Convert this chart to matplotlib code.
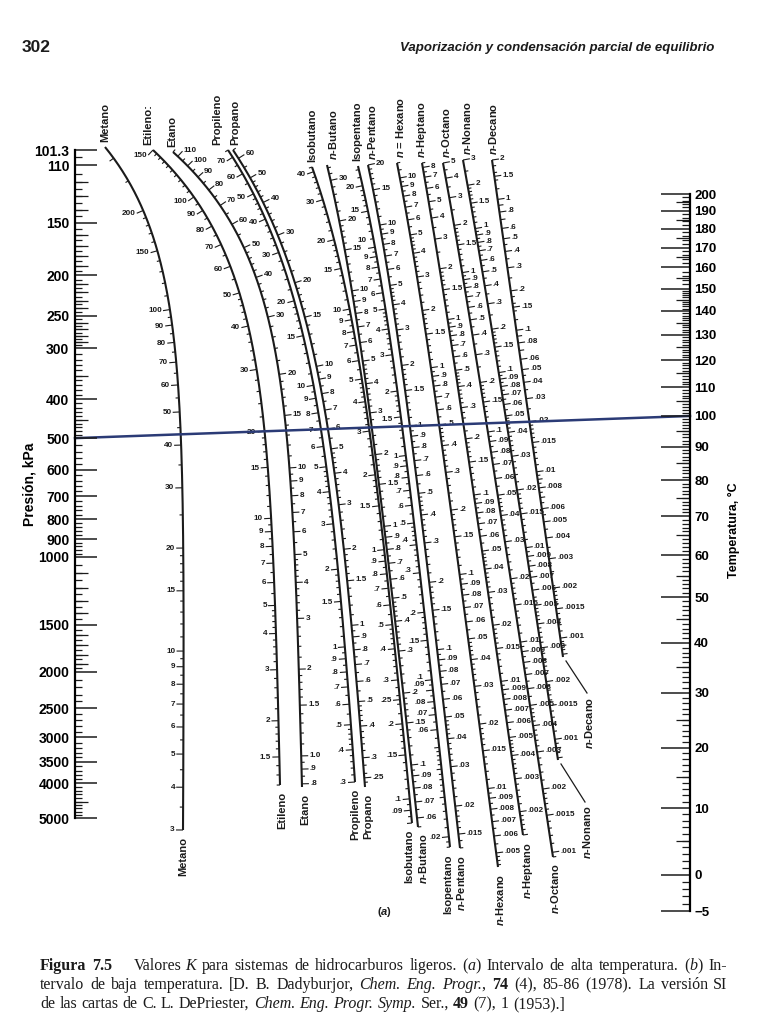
import re
import numpy as np
import matplotlib
matplotlib.use("Agg")
import matplotlib.pyplot as plt
from matplotlib.collections import LineCollection

plt.rcParams["font.family"] = ["Liberation Sans", "DejaVu Sans"]
plt.rcParams["mathtext.fontset"] = "custom"
plt.rcParams["mathtext.it"] = "Liberation Sans:italic:bold"
plt.rcParams["mathtext.rm"] = "Liberation Sans:bold"

# ---- values -----------------------------------------------------------
pressure_kpa = [101.3, 110, 150, 200, 250, 300, 400, 500, 600, 700, 800, 900,
                1000, 1500, 2000, 2500, 3000, 3500, 4000, 5000]
temperature_c = [200, 190, 180, 170, 160, 150, 140, 130, 120, 110, 100, 90,
                 80, 70, 60, 50, 40, 30, 20, 10, 0, -5]
ref_pressure = 500      # kPa, left end of the example line
ref_temperature = 100   # degC, right end of the example line

names_top = ["Metano", "Etileno:", "Etano", "Propileno", "Propano", "Isobutano",
             "$n$-Butano", "Isopentano", "$n$-Pentano", "$n$ = Hexano",
             "$n$-Heptano", "$n$-Octano", "$n$-Nonano", "$n$-Decano"]
names_bottom = ["Metano", "Etileno", "Etano", "Propileno", "Propano", "Isobutano",
                "$n$-Butano", "Isopentano", "$n$-Pentano", "$n$-Hexano",
                "$n$-Heptano", "$n$-Octano", "$n$-Nonano", "$n$-Decano"]

# K at the top end, on the example line, and at the bottom end of each scale
k_top = [330, 150, 115, 75, 65, 42, 35, 25, 20, 12, 8.5, 5, 3, 2]
k_ref = [43, 20, 13.5, 7, 6, 3.1, 2.6, 1.35, 1.0, 0.5, 0.24, 0.11, 0.045, 0.02]
k_bottom = [3, 1.2, 0.78, 0.3, 0.23, 0.08, 0.055, 0.018, 0.013, 0.0043,
            0.0015, 0.00095, 0.00078, 0.00077]

metano_k = "200 150 100 90 80 70 60 50 40 30 20 15 10 9 8 7 6 5 4 3".split()
etileno_k = "150 100 90 80 70 60 50 40 30 20 15 10 9 8 7 6 5 4 3 2 1.5".split()
etano_k = "110 100 90 80 70 60 50 40 30 20 15 10 9 8 7 6 5 4 3 2 1.5 1.0 .9 .8".split()
propileno_k = "70 60 50 40 30 20 15 10 9 8 7 6 5 4 3 2 1.5 1 .9 .8 .7 .6 .5 .4 .3".split()
propano_k = "60 50 40 30 20 15 10 9 8 7 6 5 4 3 2 1.5 1 .9 .8 .7 .6 .5 .4 .3 .25".split()
isobutano_k = ("40 30 20 15 10 9 8 7 6 5 4 3 2 1.5 1 .9 .8 .7 .6 .5 .4 .3 .25 .2 "
               ".15 .1 .09").split()
butano_k = ("30 20 15 10 9 8 7 6 5 4 3 2 1.5 1 .9 .8 .7 .6 .5 .4 .3 .2 .15 .1 "
            ".09 .08 .07 .06").split()
isopentano_k = ("20 15 10 9 8 7 6 5 4 3 2 1.5 1 .9 .8 .7 .6 .5 .4 .3 .2 .15 .1 "
                ".09 .08 .07 .06 .02").split()
pentano_k = ("20 15 10 9 8 7 6 5 4 3 2 1.5 1 .9 .8 .7 .6 .5 .4 .3 .2 .15 .1 "
             ".09 .08 .07 .06 .05 .04 .03 .02 .015").split()
hexano_k = ("10 9 8 7 6 5 4 3 2 1.5 1 .9 .8 .7 .6 .5 .4 .3 .2 .15 .1 .09 .08 "
            ".07 .06 .05 .04 .03 .02 .015 .01 .009 .008 .007 .006 .005").split()
heptano_k = ("8 7 6 5 4 3 2 1.5 1 .9 .8 .7 .6 .5 .4 .3 .2 .15 .1 .09 .08 .07 "
             ".06 .05 .04 .03 .02 .015 .01 .009 .008 .007 .006 .005 .004 .003 "
             ".002").split()
octano_k = ("5 4 3 2 1.5 1 .9 .8 .7 .6 .5 .4 .3 .2 .15 .1 .09 .08 .07 .06 .05 "
            ".04 .03 .02 .015 .01 .009 .008 .007 .006 .005 .004 .003 .002 "
            ".0015 .001").split()
nonano_k = ("3 2 1.5 1 .9 .8 .7 .6 .5 .4 .3 .2 .15 .1 .09 .08 .07 .06 .05 .04 "
            ".03 .02 .015 .01 .009 .008 .007 .006 .005 .004 .003 .002 .0015 "
            ".001").split()
decano_k = ("2 1.5 1 .8 .6 .5 .4 .3 .2 .15 .1 .08 .06 .05 .04 .03 .02 .015 .01 "
            ".008 .006 .005 .004 .003 .002 .0015 .001").split()
k_labels = [metano_k, etileno_k, etano_k, propileno_k, propano_k, isobutano_k,
            butano_k, isopentano_k, pentano_k, hexano_k, heptano_k, octano_k,
            nonano_k, decano_k]

caption = [
    "**Figura 7.5**\u2003 Valores *K* para sistemas de hidrocarburos ligeros. "
    "(*a*) Intervalo de alta temperatura. (*b*) In-",
    "tervalo de baja temperatura. [D. B. Dadyburjor, *Chem. Eng. Progr.*, "
    "**74** (4), 85-86 (1978). La versión SI",
    "de las cartas de C. L. DePriester, *Chem. Eng. Progr. Symp.* Ser., "
    "**49** (7), 1 (1953).]",
]

# ---- layout of the nomograph (page pixels) ------------------------------
top_x = [105, 153, 173, 228, 233, 312, 327, 358, 368, 397, 422, 443, 463, 492]
top_y = [147, 150, 152, 150, 150, 167, 165, 166, 165, 163, 163, 163, 160, 160]
bottom_x = [183, 280, 302, 355, 365, 412, 418, 450, 460, 498, 523, 553, 558, 563]
bottom_y = [830, 785, 787, 782, 787, 823, 827, 847, 848, 867, 835, 857, 760, 657]
bow = [82, 115, 115, 90, 90, 40, 20, 20, 15, 10, 5, 5, 5, 0]
bow_len = [100, 110, 105, 150, 150, 150, 150, 150, 150, 150, 150, 150, 150, 150]
label_side = [-1, -1, 1, -1, 1, -1, 1, -1, 1, 1, 1, 1, 1, 1]
tick_gap = [6.5, 3.2, 3.2, 3.2, 3.2, 3.2, 3.2, 3.2, 3.2, 3.2, 3.2, 3.2, 3.2, 3.2]
top_dx = [0, -5, -1, -11, 2, 0, 6, -1, 4, 3, 0, 3, 4, 1]
bottom_dx = [0, 2, 3, 0, 3, -3, 5, -2, 1, 2, 5, 2, 0, 0]
leaders = {12: (27, 42), 13: (24, 36)}

ink = "#1b1b1b"
W, H = 768, 1024


def px_box(x0, y0, x1, y1):
    return [x0 / W, 1 - y1 / H, (x1 - x0) / W, (y1 - y0) / H]


def p_fwd(p):
    u = np.log10(np.maximum(p, 1e-3)) - 2.0
    return 429.0 * u - 21.0 * u * u


def p_inv(v):
    disc = np.maximum(429.0 ** 2 - 84.0 * np.asarray(v, float), 0.0)
    return 10.0 ** (2.0 + (429.0 - np.sqrt(disc)) / 42.0)


def t_fwd(t):
    return -1000.0 / np.maximum(np.asarray(t, float) + 187.4, 1e-3)


def t_inv(v):
    return -1000.0 / np.minimum(np.asarray(v, float), -1e-6) - 187.4


def scale_ticks(kmin, kmax, kmid, ppd_hi, ppd_lo, gap):
    vals = []
    for e in range(int(np.floor(np.log10(kmin))), int(np.ceil(np.log10(kmax))) + 1):
        base = 10.0 ** e
        for lo, hi in ((1, 2), (2, 5), (5, 10)):
            ppd = ppd_hi if lo * base >= kmid else ppd_lo
            step = hi - lo
            for cand in (0.02, 0.05, 0.1, 0.2, 0.5, 1.0):
                if np.log10(hi / (hi - cand)) * ppd >= gap:
                    step = cand
                    break
            for m in np.arange(lo, hi - 1e-9, step):
                v = float(f"{m * base:.6g}")
                if kmin * 0.999 <= v <= kmax * 1.001:
                    vals.append(v)
    return vals


fig = plt.figure(figsize=(W / 100, H / 100), dpi=100)
ax = fig.add_axes([0, 0, 1, 1])
ax.set_xlim(0, W)
ax.set_ylim(H, 0)
ax.axis("off")
renderer = fig.canvas.get_renderer()

# ---- pressure scale ---------------------------------------------------
ax_p = fig.add_axes(px_box(75, 150, 135, 818))
ax_p.set_yscale("function", functions=(p_fwd, p_inv))
ax_p.set_ylim(5000, 101.3)
ax_p.set_xlim(0, 1)
ax_p.patch.set_visible(False)
for side in ("top", "right", "bottom"):
    ax_p.spines[side].set_visible(False)
ax_p.spines["left"].set_linewidth(1.6)
ax_p.set_xticks([])
ax_p.set_yticks(pressure_kpa)
ax_p.set_yticklabels([("%g" % p) for p in pressure_kpa], fontweight="bold")
p_minor = np.concatenate([np.arange(105, 300, 5), np.arange(300, 500, 10),
                          np.arange(500, 1000, 20), np.arange(1000, 2000, 50),
                          np.arange(2000, 5000, 100)])
ax_p.set_yticks(p_minor, minor=True)
ax_p.tick_params(axis="y", which="major", direction="in", length=16, width=1.1,
                 pad=4, labelsize=10, color=ink)
ax_p.tick_params(axis="y", which="minor", direction="in", length=5, width=0.9,
                 color=ink)
p_mid = [v for v in p_minor if v not in pressure_kpa and (
    (v < 300 and v % 10 == 0) or (300 <= v < 1000 and v % 50 == 0) or
    (v >= 1000 and v % 100 == 0 and v < 2000) or v % 500 == 0)]
ax_p.hlines(p_mid, 0, 13 / 60, transform=ax_p.get_yaxis_transform(),
            color=ink, lw=0.9)
ax_p.set_ylabel("Presión, kPa", fontsize=10, fontweight="bold")
ax_p.yaxis.set_label_coords((37 - 75) / 60, 0.5)

# ---- temperature scale ------------------------------------------------
ax_t = fig.add_axes(px_box(630, 194, 690, 911))
ax_t.set_yscale("function", functions=(t_fwd, t_inv))
ax_t.set_ylim(-5, 200)
ax_t.set_xlim(0, 1)
ax_t.patch.set_visible(False)
for side in ("top", "left", "bottom"):
    ax_t.spines[side].set_visible(False)
ax_t.spines["right"].set_linewidth(1.6)
ax_t.set_xticks([])
ax_t.yaxis.tick_right()
ax_t.yaxis.set_label_position("right")
ax_t.set_yticks(temperature_c)
ax_t.set_yticklabels([("\u2212%d" % -t) if t < 0 else str(t) for t in temperature_c],
                     fontweight="bold")
t_minor = np.concatenate([np.arange(-5, 150, 1), np.arange(150, 200, 2)])
ax_t.set_yticks(t_minor, minor=True)
ax_t.tick_params(axis="y", which="major", direction="in", length=21, width=1.1,
                 pad=3, labelsize=9.5, color=ink)
ax_t.tick_params(axis="y", which="minor", direction="in", length=5.5, width=0.9,
                 color=ink)
t_mid = [v for v in range(-5, 200, 5) if v not in temperature_c]
ax_t.hlines(t_mid, 1 - 14 / 60, 1, transform=ax_t.get_yaxis_transform(),
            color=ink, lw=0.9)
ax_t.set_ylabel("Temperatura, °C", fontsize=9, fontweight="bold")
ax_t.yaxis.set_label_coords((728 - 630) / 60, (911 - 530) / (911 - 194))

# ---- example line 500 kPa -> 100 degC ----------------------------------
to_page = ax.transData.inverted()
ref_x0, ref_y0 = to_page.transform(
    ax_p.get_yaxis_transform().transform((0, ref_pressure)))
ref_x1, ref_y1 = to_page.transform(
    ax_t.get_yaxis_transform().transform((1, ref_temperature)))
ax.plot([ref_x0, ref_x1], [ref_y0, ref_y1], color="#2b3b76", lw=1.8, zorder=6)

# ---- K scales -----------------------------------------------------------
segs = {7.0: [], 5.0: [], 3.3: []}
placed = []


def place_label(xl, yl, txt, ha):
    # nudge a K label up or down a little if it runs into a neighbour's label
    t = ax.text(xl, yl, txt, fontsize=5.9, fontweight="bold", color=ink,
                ha=ha, va="center", zorder=4)
    for dy in (0, 2, -2, 3.5, -3.5, 5, -5, 6.5, -6.5, 8, -8):
        t.set_y(yl + dy)
        bb = t.get_window_extent(renderer).expanded(1.05, 0.95)
        if not any(bb.overlaps(o) for o in placed):
            break
    placed.append(t.get_window_extent(renderer).expanded(1.05, 0.95))


for i in range(len(names_top)):
    y = np.linspace(top_y[i], bottom_y[i], 900)
    d = y - top_y[i]
    span = bottom_y[i] - top_y[i]
    slope = (bottom_x[i] - top_x[i] - bow[i] * (1 - np.exp(-span / bow_len[i]))) / span
    x = top_x[i] + bow[i] * (1 - np.exp(-d / bow_len[i])) + slope * d
    ax.plot(x, y, color=ink, lw=1.5, zorder=3, solid_capstyle="butt")

    s = np.concatenate([[0.0], np.cumsum(np.hypot(np.diff(x), np.diff(y)))])
    off = y - (ref_y0 + (x - ref_x0) * (ref_y1 - ref_y0) / (ref_x1 - ref_x0))
    j = max(int(np.argmax(off > 0)), 1)
    s_ref = s[j - 1] + (s[j] - s[j - 1]) * off[j - 1] / (off[j - 1] - off[j])

    lt, lm, lb = np.log10([k_top[i], k_ref[i], k_bottom[i]])
    ppd_hi = s_ref / (lt - lm)
    ppd_lo = (s[-1] - s_ref) / (lm - lb)
    tx = np.gradient(x, s)
    ty = np.gradient(y, s)
    side = label_side[i]

    labelled = {round(np.log10(float(t)), 6): t for t in k_labels[i]}
    values = {round(np.log10(v), 6): v for v in
              scale_ticks(k_bottom[i], k_top[i], k_ref[i], ppd_hi, ppd_lo, tick_gap[i])}
    for key, txt in labelled.items():
        values[key] = float(txt)

    for key in sorted(values):
        v = values[key]
        lk = np.log10(v)
        if lk >= lm:
            si = s_ref * (lt - lk) / (lt - lm)
        else:
            si = s_ref + (s[-1] - s_ref) * (lm - lk) / (lm - lb)
        if si < -0.5 or si > s[-1] + 0.5:
            continue
        px, py = np.interp(si, s, x), np.interp(si, s, y)
        nx, ny = side * np.interp(si, s, ty), -side * np.interp(si, s, tx)
        norm = np.hypot(nx, ny)
        nx, ny = nx / norm, ny / norm
        mant = round(v / 10 ** np.floor(lk + 1e-9), 6)
        if key in labelled:
            length = 7.0
        elif abs(mant - round(mant)) < 1e-6 or (mant < 2 and abs(2 * mant - round(2 * mant)) < 1e-6):
            length = 5.0
        else:
            length = 3.3
        segs[length].append([(px, py), (px + nx * length, py + ny * length)])
        if key in labelled:
            place_label(px + nx * (length + 1.2), py + ny * (length + 1.2),
                        labelled[key], "right" if side < 0 else "left")

    ax.text(top_x[i] + top_dx[i], top_y[i] - 5, names_top[i], rotation=90,
            fontsize=8, fontweight="bold", ha="center", va="bottom", color=ink)
    bx, by = bottom_x[i] + bottom_dx[i], bottom_y[i] + 7
    if i in leaders:
        dx, dy = leaders[i]
        ax.plot([bottom_x[i] + 3, bottom_x[i] + dx], [bottom_y[i] + 4, bottom_y[i] + dy],
                color=ink, lw=0.9)
        bx, by = bottom_x[i] + dx + 2, bottom_y[i] + dy + 4
    ax.text(bx, by, names_bottom[i], rotation=90, fontsize=8, fontweight="bold",
            ha="center", va="top", color=ink)

for length, lines in segs.items():
    ax.add_collection(LineCollection(lines, colors=ink, linewidths=0.8, zorder=3))

# ---- page texts -----------------------------------------------------------
ax.text(22, 48, "302", fontsize=12.5, fontweight="bold", ha="left", va="center",
        color=ink)
ax.text(714, 48, "Vaporización y condensación parcial de equilibrio", fontsize=9.5,
        fontweight="bold", fontstyle="italic", ha="right", va="center", color=ink)
ax.text(385, 912, "($a$)", fontsize=8, fontweight="bold", ha="center", va="center",
        color=ink)

serif = ["Liberation Serif", "DejaVu Serif"]
cap_size = 11.5


def piece_style(style):
    kw = dict(family=serif, fontsize=cap_size, color=ink)
    if style == "bold":
        kw["fontweight"] = "bold"
    if style == "italic":
        kw["fontstyle"] = "italic"
    return kw


def width_of(txt, style):
    t = ax.text(0, 0, "A" + txt + "A", **piece_style(style))
    w = t.get_window_extent(renderer).width
    t.set_text("AA")
    w -= t.get_window_extent(renderer).width
    t.remove()
    return w


def split_words(line):
    words = [[]]
    for tok in re.split(r"(\*\*[^*]+\*\*|\*[^*]+\*)", line):
        if not tok:
            continue
        if tok.startswith("**"):
            style, txt = "bold", tok[2:-2]
        elif tok.startswith("*"):
            style, txt = "italic", tok[1:-1]
        else:
            style, txt = "normal", tok
        for k, part in enumerate(txt.split(" ")):
            if k > 0:
                words.append([])
            if part:
                words[-1].append((part, style))
    return [w for w in words if w]


space = max(width_of(" ", "normal"), 0.27 * cap_size * 100 / 72)
for row, line in enumerate(caption):
    words = split_words(line)
    widths = [[width_of(t, st) for t, st in w] for w in words]
    total = sum(sum(w) for w in widths)
    gap = space
    if row < len(caption) - 1:
        gap = (727 - 40 - total) / (len(words) - 1)
        if not 1.5 < gap < 12:
            gap = space
    xpos = 40.0
    ybase = 970 + 19 * row
    for w, ws in zip(words, widths):
        for (t, st), wd in zip(w, ws):
            ax.text(xpos, ybase, t, ha="left", va="baseline", **piece_style(st))
            xpos += wd
        xpos += gap

fig.savefig("out.png", dpi=100)
